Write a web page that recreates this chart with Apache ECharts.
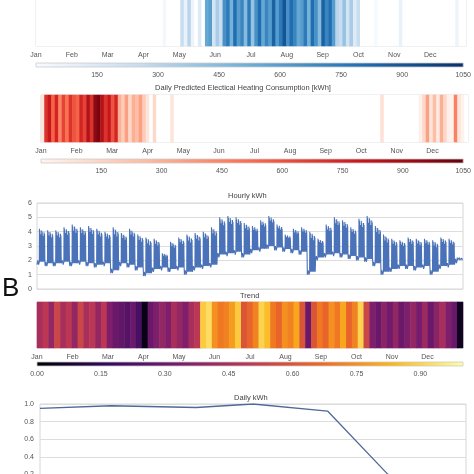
<!DOCTYPE html>
<html><head><meta charset="utf-8">
<script src="https://cdn.jsdelivr.net/npm/echarts@6/dist/echarts.min.js"></script>
<style>html,body{margin:0;padding:0;background:#fff;overflow:hidden;width:474px;height:474px}#c{width:474px;height:510px}</style>
</head><body><div id="c"></div>
<script>
const months = ['Jan','Feb','Mar','Apr','May','Jun','Jul','Aug','Sep','Oct','Nov','Dec',''];
// cooling (blue), 3-day cells (122)
const coolingCells = [0,0,0,0,0,0,0,0,0,0, 0,0,0,0,0,0,0,0,0,0, 0,0,0,0,0,0,0,0,0,0, 0,0,0,0,0,0,50,0,0,0,
 0,250,100,300,80,0,150,0,550,600, 200,350,250,650,750,500,800,600,700,450, 750,400,650,800,550,700,600,850,600,750,
 900,650,800,700,550,600,750,500,800,650, 450,850,700,800,600,300,250,400,200,350, 150,250,0,0,0,0,40,0,0,0,
 0,0,0,100,0,0,0,0,0,0, 0,0,0,0,0,0,0,0,0,80, 0,0];
// heating (red), 3-day cells (122)
const heatingCells = [100,700,800,550,750,450,650,500,700,600, 550,750,650,850,700,950,1000,850,700,800,
 600,750,300,200,350,150,300,250,350,200, 100,0,150,0,0,0,0,100,0,0, 0,0,0,0,0,0,0,0,0,0,
 0,0,0,0,0,0,0,0,0,0, 0,0,0,0,0,0,0,0,0,0, 0,0,0,0,0,0,0,0,0,0, 0,0,0,0,0,0,0,0,0,0,
 0,0,0,0,0,0,0,120,0,0, 0,0,0,0,0,0,0,0,60,150, 350,100,250,80,300,150,60,50,450,100, 50,0];
// trend, 5-day cells (73)
const trendCells = [0.45,0.5,0.4,0.55,0.45,0.5,0.4,0.55,0.45,0.5,0.4,0.5,0.35,0.3,
 0.28,0.25,0.3,0.22,0.03,0.3,0.35,0.4,0.35,0.45,0.4,0.35,0.45,0.5,0.88,0.92,
 0.75,0.7,0.72,0.78,0.88,0.6,0.65,0.72,0.9,0.85,0.7,0.65,0.75,0.72,0.8,0.6,0.3,
 0.6,0.7,0.65,0.75,0.7,0.8,0.65,0.72,0.9,0.55,
 0.35,0.3,0.38,0.32,0.4,0.3,0.35,0.4,0.33,0.42,0.3,0.38,0.45,0.35,0.3,0.05];
// hourly kWh weekly highs / lows
const weekHigh = [4.2,4.1,4.1,4.3,4.5,4.3,4.4,4.2,4.0,4.3,3.9,4.2,3.8,3.6,3.5,2.5,3.3,3.6,3.8,3.9,4.0,4.3,5.0,5.1,5.0,4.6,4.4,4.8,5.1,4.5,3.8,4.2,4.3,4.0,3.5,4.5,5.0,4.8,4.3,4.9,5.1,4.4,3.8,3.5,3.4,3.6,3.5,3.5,3.4,3.6,3.5,2.2];
const weekLow = [1.7,1.6,1.6,1.7,1.6,1.7,1.6,1.5,1.6,1.1,1.6,1.5,1.3,0.9,1.2,1.3,1.2,1.3,1.0,1.3,1.4,1.5,2.2,2.3,2.4,2.2,2.5,2.6,2.8,2.7,2.6,2.5,2.4,1.0,2.0,2.2,2.3,2.2,2.1,2.0,1.9,1.6,1.0,1.2,1.4,1.4,1.3,1.4,1.0,1.4,1.5,1.8];
const weekDayShape = [1.0,0.85,0.95,0.8,0.9]; // relative peak of each weekday
// daily kWh
const dailyX = [0,1,2.2,3,4.05,4.9,5.5];
const dailyY = [0.95,0.98,0.96,1.0,0.92,0.2,0.0];

const blues=['#ffffff','#c6dbef','#6baed6','#2171b5','#08306b'];
const reds=['#ffffff','#fcbba1','#fb6a4a','#cb181d','#67000d'];
const inferno=['#000004','#320a5e','#781c6d','#bc3754','#ed6925','#fbb61a','#fcffa4'];
const lbl={fontSize:7,color:'#555',fontFamily:'Liberation Sans'};
function grad(c){return new echarts.graphic.LinearGradient(0,0,1,0,c.map((x,i)=>({offset:i/(c.length-1),color:x})));}

const grids=[
 {left:36,right:8,top:-2,height:48},
 {left:36,right:8,top:63,height:4},
 {left:41,right:6,top:95,height:47},
 {left:41,right:6,top:159,height:4},
 {left:37,right:11,top:203,height:86},
 {left:37,right:11,top:302,height:46},
 {left:37,right:11,top:362,height:4},
 {left:40,right:8,top:404,height:88}
].map((g,i)=>Object.assign({show:true,borderColor:'#ccc',borderWidth:0.8,backgroundColor:'#fff'},g));
grids[1].backgroundColor=grad(['#f7fbff','#c6dbef','#6baed6','#2171b5','#08306b']);grids[3].backgroundColor=grad(['#fff5f0','#fcbba1','#fb6a4a','#cb181d','#67000d']);grids[6].backgroundColor=grad(inferno);

const xAxis=[],yAxis=[],series=[],visualMap=[];
function hm(gi,cells,colors,max){
  const xi=xAxis.length;
  xAxis.push({gridIndex:gi,type:'category',data:cells.map((_,i)=>i),show:false});
  xAxis.push({gridIndex:gi,type:'category',data:months,boundaryGap:false,position:'bottom',axisLine:{show:false},axisTick:{show:false},axisLabel:Object.assign({interval:0,margin:6},lbl)});
  const yi=yAxis.length;
  yAxis.push({gridIndex:gi,type:'category',data:['a'],show:false});
  series.push({type:'heatmap',xAxisIndex:xi,yAxisIndex:yi,data:cells.map((v,i)=>[i,0,v])});
  visualMap.push({show:false,min:0,max:max,seriesIndex:series.length-1,inRange:{color:colors}});
}
function cb(gi,max,interval,fmt,minL,maxL){
  xAxis.push({gridIndex:gi,type:'value',min:0,max:max,interval:interval,axisLine:{show:false},axisTick:{show:false},splitLine:{show:false},
    axisLabel:Object.assign({margin:5,showMinLabel:minL,showMaxLabel:maxL,formatter:fmt},lbl)});
  yAxis.push({gridIndex:gi,type:'value',show:false});
}
hm(0,coolingCells,blues,1050);
cb(1,1050,150,v=>v,false,true);
hm(2,heatingCells,reds,1050);
cb(3,1050,150,v=>v,false,true);
const hourly=[];
weekHigh.forEach((h,w)=>{const l=weekLow[w];
  hourly.push([w,l],[w+0.1,l+0.3],[w+0.2,l],[w+0.28,l+0.2]);
  weekDayShape.forEach((s,d)=>{const p=l+(h-l)*s;
    hourly.push([w+0.3+d*0.14,p],[w+0.33+d*0.14,l+(p-l)*0.6],[w+0.36+d*0.14,p*0.97],[w+0.4+d*0.14,l+0.2]);});
});
xAxis.push({gridIndex:4,type:'value',min:0,max:52,show:false});
yAxis.push({gridIndex:4,type:'value',min:0,max:6,interval:1,axisLine:{show:false},axisTick:{show:false},splitLine:{lineStyle:{color:'#ddd'}},axisLabel:Object.assign({margin:5},lbl)});
series.push({type:'line',xAxisIndex:xAxis.length-1,yAxisIndex:yAxis.length-1,data:hourly,showSymbol:false,lineStyle:{color:'#4a72b8',width:1.1}});
hm(5,trendCells,inferno,1.0);
cb(6,1.0,0.15,v=>v.toFixed(2),true,false);
xAxis.push({gridIndex:7,type:'value',min:0,max:6,show:false});
yAxis.push({gridIndex:7,type:'value',min:0,max:1.0,interval:0.2,axisLine:{show:false},axisTick:{show:false},splitLine:{lineStyle:{color:'#ddd'}},axisLabel:Object.assign({margin:6,formatter:v=>v.toFixed(1)},lbl)});
series.push({type:'line',xAxisIndex:xAxis.length-1,yAxisIndex:yAxis.length-1,data:dailyX.map((x,i)=>[x,dailyY[i]]),showSymbol:false,lineStyle:{color:'#4f6a96',width:1.3}});

const chart=echarts.init(document.getElementById('c'),null,{renderer:'canvas'});
chart.setOption({animation:false,grid:grids,xAxis,yAxis,series,visualMap,
 graphic:[
  {type:'text',left:155,top:84,style:{text:'Daily Predicted Electical Heating Consumption [kWh]',fontSize:7.5,fill:'#444',fontFamily:'Liberation Sans'}},
  {type:'text',left:228,top:192,style:{text:'Hourly kWh',fontSize:7.5,fill:'#444',fontFamily:'Liberation Sans'}},
  {type:'text',left:240,top:292,style:{text:'Trend',fontSize:7.5,fill:'#444',fontFamily:'Liberation Sans'}},
  {type:'text',left:234,top:394,style:{text:'Daily kWh',fontSize:7.5,fill:'#444',fontFamily:'Liberation Sans'}},
  {type:'text',left:2,top:276,style:{text:'B',fontSize:26,fill:'#111',fontFamily:'Liberation Sans'}}
 ]});
</script></body></html>
